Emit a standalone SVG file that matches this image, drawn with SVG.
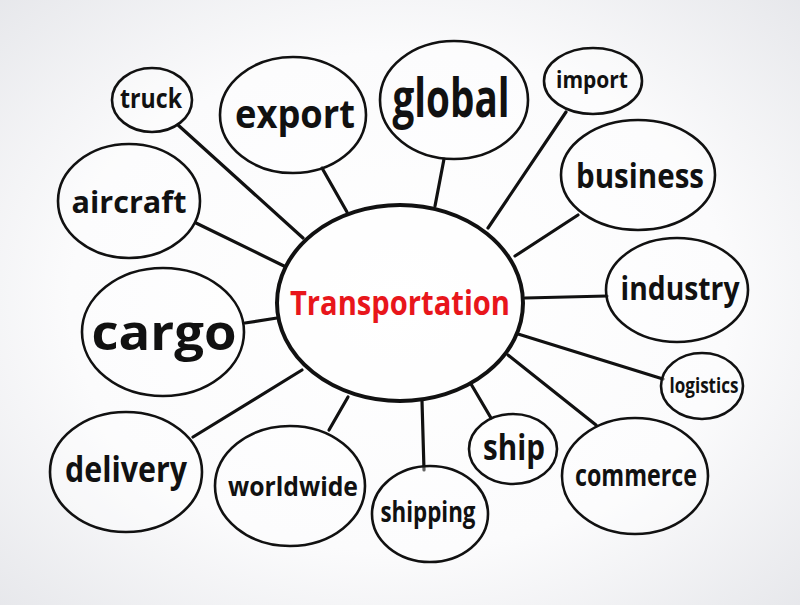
<svg xmlns="http://www.w3.org/2000/svg" width="800" height="605" viewBox="0 0 800 605">
<defs>
<radialGradient id="bg" cx="0.5" cy="0.5" r="0.75">
<stop offset="0" stop-color="#ffffff"/>
<stop offset="0.55" stop-color="#fbfbfc"/>
<stop offset="1" stop-color="#e4e5e9"/>
</radialGradient>
<style>
.n{fill:#ffffff;fill-opacity:0.35;stroke:#111;stroke-width:2.6}
.c{fill:#ffffff;fill-opacity:0.35;stroke:#111;stroke-width:4}
.l{stroke:#111;stroke-width:3.2;stroke-linecap:round;fill:none}
text{font-family:"Open Sans","DejaVu Sans",sans-serif;font-weight:700;fill:#111;text-anchor:middle}
.r{fill:#e8161b}
</style>
</defs>
<rect width="800" height="605" fill="url(#bg)"/>
<g id="connectors">
<line class="l" x1="178" y1="125" x2="303" y2="238"/>
<line class="l" x1="322" y1="168" x2="347" y2="212"/>
<line class="l" x1="196" y1="223" x2="284" y2="266"/>
<line class="l" x1="245" y1="323" x2="277" y2="318"/>
<line class="l" x1="193" y1="437" x2="302" y2="370"/>
<line class="l" x1="329" y1="430" x2="348" y2="397"/>
<line class="l" x1="424" y1="470" x2="422" y2="401"/>
<line class="l" x1="491" y1="418" x2="471" y2="384"/>
<line class="l" x1="596" y1="425" x2="508" y2="355"/>
<line class="l" x1="663" y1="379" x2="518" y2="334"/>
<line class="l" x1="607" y1="296" x2="525" y2="298"/>
<line class="l" x1="578" y1="215" x2="515" y2="256"/>
<line class="l" x1="566" y1="112" x2="488" y2="228"/>
<line class="l" x1="444" y1="159" x2="435" y2="206"/>
</g>
<g id="center">
<ellipse class="c" cx="400" cy="303" rx="123" ry="98"/>
<text class="r" x="400" y="315" font-size="34" textLength="220" lengthAdjust="spacingAndGlyphs">Transportation</text>
</g>
<g id="truck">
<ellipse class="n" cx="152" cy="100" rx="40" ry="32"/>
<text x="151" y="108" font-size="26" textLength="62" lengthAdjust="spacingAndGlyphs">truck</text>
</g>
<g id="export">
<ellipse class="n" cx="293" cy="115" rx="73" ry="58"/>
<text x="295" y="128" font-size="40" textLength="120" lengthAdjust="spacingAndGlyphs">export</text>
</g>
<g id="global">
<ellipse class="n" cx="454" cy="100" rx="74" ry="59"/>
<text x="451" y="117" font-size="54" textLength="117" lengthAdjust="spacingAndGlyphs">global</text>
</g>
<g id="import">
<ellipse class="n" cx="593" cy="81" rx="49" ry="33"/>
<text x="592" y="88" font-size="24" textLength="72" lengthAdjust="spacingAndGlyphs">import</text>
</g>
<g id="business">
<ellipse class="n" cx="638" cy="175" rx="77" ry="55"/>
<text x="640" y="188" font-size="34" textLength="128" lengthAdjust="spacingAndGlyphs">business</text>
</g>
<g id="industry">
<ellipse class="n" cx="677" cy="290" rx="71" ry="52"/>
<text x="680" y="300" font-size="32" textLength="119" lengthAdjust="spacingAndGlyphs">industry</text>
</g>
<g id="logistics">
<ellipse class="n" cx="702" cy="386" rx="41" ry="33"/>
<text x="704" y="393" font-size="21" textLength="69" lengthAdjust="spacingAndGlyphs">logistics</text>
</g>
<g id="commerce">
<ellipse class="n" cx="635" cy="476" rx="73" ry="58"/>
<text x="636" y="486" font-size="31" textLength="122" lengthAdjust="spacingAndGlyphs">commerce</text>
</g>
<g id="ship">
<ellipse class="n" cx="513" cy="449" rx="44" ry="35"/>
<text x="514" y="460" font-size="36" textLength="62" lengthAdjust="spacingAndGlyphs">ship</text>
</g>
<g id="shipping">
<ellipse class="n" cx="430" cy="514" rx="58" ry="48"/>
<text x="428" y="522" font-size="28" textLength="95" lengthAdjust="spacingAndGlyphs">shipping</text>
</g>
<g id="worldwide">
<ellipse class="n" cx="290" cy="486" rx="75" ry="60"/>
<text x="293" y="496" font-size="27" textLength="130" lengthAdjust="spacingAndGlyphs">worldwide</text>
</g>
<g id="delivery">
<ellipse class="n" cx="126" cy="472" rx="76" ry="60"/>
<text x="126" y="482" font-size="36" textLength="122" lengthAdjust="spacingAndGlyphs">delivery</text>
</g>
<g id="cargo">
<ellipse class="n" cx="163" cy="332" rx="81" ry="64"/>
<text x="164" y="350" font-size="48" textLength="145" lengthAdjust="spacingAndGlyphs">cargo</text>
</g>
<g id="aircraft">
<ellipse class="n" cx="129" cy="201" rx="71" ry="57"/>
<text x="129" y="213" font-size="31" textLength="115" lengthAdjust="spacingAndGlyphs">aircraft</text>
</g>
</svg>
